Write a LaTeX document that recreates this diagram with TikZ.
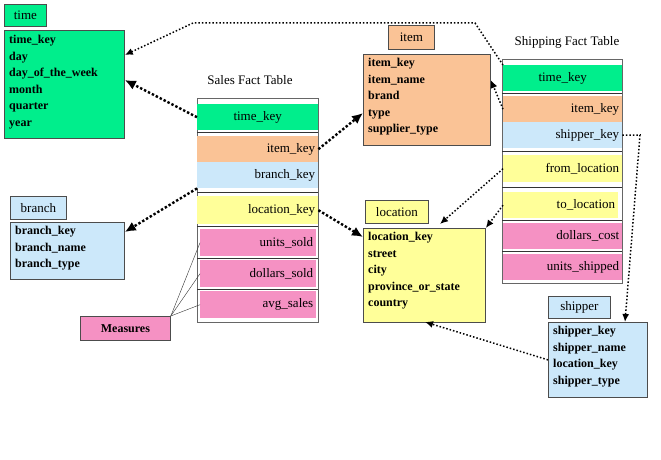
\documentclass[tikz,border=0pt]{standalone}
\usepackage{fontspec}
\setmainfont{Liberation Serif}
\usetikzlibrary{arrows.meta}
\definecolor{cg}{RGB}{0,238,140}
\definecolor{co}{RGB}{250,195,150}
\definecolor{cb}{RGB}{204,232,250}
\definecolor{cy}{RGB}{255,255,153}
\definecolor{cp}{RGB}{245,145,195}
\begin{document}
\begin{tikzpicture}[x=1pt,y=-1pt,
 box/.style={draw=black!70,line width=0.8pt,fill=#1,inner sep=0pt,anchor=north west},
 lsttext/.style={anchor=north west,align=left,font=\fontsize{12}{16.5}\selectfont\bfseries,inner sep=0pt},
 ttl/.style={box=#1,font=\fontsize{13}{14}\selectfont},
 cell/.style={fill=#1,anchor=north west,inner sep=0pt,font=\fontsize{13}{14}\selectfont,align=right},
 thick arr/.style={line width=2.4pt,dotted,-{Latex[length=11pt,width=10pt]}},
 thin arr/.style={line width=1.5pt,dotted,-{Latex[length=8pt,width=7pt]}}]
\useasboundingbox (0,0) rectangle (661,460);
% time
\node[ttl=cg,minimum width=42pt,minimum height=22pt] (tt) at (4,4) {time};
\node[box=cg,minimum width=120pt,minimum height=108pt] (tb) at (4,30) {};
\node[lsttext] (tbt) at (9,35) {time\_key\\day\\day\_of\_the\_week\\month\\quarter\\year};
% branch
\node[ttl=cb,minimum width=56pt,minimum height=23pt] (bt) at (10,196) {branch};
\node[box=cb,minimum width=114pt,minimum height=57pt] (bb) at (10,222) {};
\node[lsttext] (bbt) at (15,226) {branch\_key\\branch\_name\\branch\_type};
% item
\node[ttl=co,minimum width=46pt,minimum height=24pt] (it) at (388,25) {item};
\node[box=co,minimum width=127pt,minimum height=91pt] (ib) at (363,54) {};
\node[lsttext] (ibt) at (368,58) {item\_key\\item\_name\\brand\\type\\supplier\_type};
% location
\node[ttl=cy,minimum width=63pt,minimum height=23pt] (lt) at (365,200) {location};
\node[box=cy,minimum width=122pt,minimum height=94pt] (lb) at (363,228) {};
\node[lsttext] (lbt) at (368,232) {location\_key\\street\\city\\province\_or\_state\\country};
% shipper
\node[ttl=cb,minimum width=62pt,minimum height=22pt] (st) at (548,296) {shipper};
\node[box=cb,minimum width=99pt,minimum height=75pt] (sb) at (548,322) {};
\node[lsttext] (sbt) at (553,326) {shipper\_key\\shipper\_name\\location\_key\\shipper\_type};
% measures
\node[box=cp,minimum width=90pt,minimum height=24pt,font=\fontsize{12}{13}\selectfont\bfseries] (me) at (80,316) {Measures};
% sales fact table
\node[font=\fontsize{13}{14}\selectfont] (sft) at (250,80) {Sales Fact Table};
\draw[black!60,line width=1pt] (197,98) rectangle (318,322);
\draw[black!80,line width=1pt] (197,132)--(318,132) (197,192)--(318,192) (197,226)--(318,226) (197,258)--(318,258) (197,289)--(318,289);
\node[cell=cg,minimum width=121pt,minimum height=26pt] (s1) at (197,104) {time\_key};
\node[cell=co,minimum width=121pt,minimum height=26pt,text width=115pt] (s2) at (197,136) {item\_key};
\node[cell=cb,minimum width=121pt,minimum height=26pt,text width=115pt] (s3) at (197,162) {branch\_key};
\node[cell=cy,minimum width=121pt,minimum height=28pt,text width=115pt] (s4) at (197,196) {location\_key};
\node[cell=cp,minimum width=116pt,minimum height=27pt,text width=110pt] (s5) at (200,229) {units\_sold};
\node[cell=cp,minimum width=116pt,minimum height=27pt,text width=110pt] (s6) at (200,260) {dollars\_sold};
\node[cell=cp,minimum width=116pt,minimum height=27pt,text width=110pt] (s7) at (200,291) {avg\_sales};
% shipping fact table
\node[font=\fontsize{13}{14}\selectfont] (hft) at (567,42) {Shipping Fact Table};
\draw[black!60,line width=1pt] (502,60) rectangle (622,283);
\draw[black!80,line width=1pt] (502,93)--(622,93) (502,151)--(622,151) (502,187)--(622,187) (502,220)--(622,220) (502,251)--(622,251);
\node[cell=cg,minimum width=119pt,minimum height=26pt] (h1) at (503,65) {time\_key};
\node[cell=co,minimum width=119pt,minimum height=26pt,text width=113pt] (h2) at (503,96) {item\_key};
\node[cell=cb,minimum width=119pt,minimum height=26pt,text width=113pt] (h3) at (503,122) {shipper\_key};
\node[cell=cy,minimum width=119pt,minimum height=27pt,text width=113pt] (h4) at (503,155) {from\_location};
\node[cell=cy,minimum width=115pt,minimum height=26pt,text width=109pt] (h5) at (503,192) {to\_location};
\node[cell=cp,minimum width=119pt,minimum height=26pt,text width=113pt] (h6) at (503,223) {dollars\_cost};
\node[cell=cp,minimum width=119pt,minimum height=26pt,text width=113pt] (h7) at (503,254) {units\_shipped};
% connectors
\draw[thick arr] (s1.west) -- (tb.east |- 0,80);
\draw[thick arr] (s2.east) -- (ib.west |- 0,113);
\draw[thick arr] (s3.south west) -- (bb.east |- 0,232);
\draw[thick arr] (s4.east) -- (lb.west |- 0,237);
\coordinate (c1) at (193,23); \coordinate (c2) at (475,23);
\draw[thin arr] (h1.north west) -- (c2) -- (c1) -- (tb.east |- 0,55);
\draw[thin arr] (h2.west) -- (ib.east |- 0,80);
\coordinate (c5) at (440,224);
\draw[thin arr] (h4.west) -- (c5);
\draw[thin arr] (h5.west) -- (lb.north east);
\coordinate (c3) at (640,135); \coordinate (c6) at (625,322);
\draw[thin arr] (h3.east) -- (c3) -- (c6);
\coordinate (c4) at (425,322);
\draw[thin arr] (sb.west) -- (c4);
\draw[black!80] (me.north east) -- (s5.west);
\draw[black!80] (me.north east) -- (s6.west);
\draw[black!80] (me.north east) -- (s7.west);
\end{tikzpicture}
\end{document}
